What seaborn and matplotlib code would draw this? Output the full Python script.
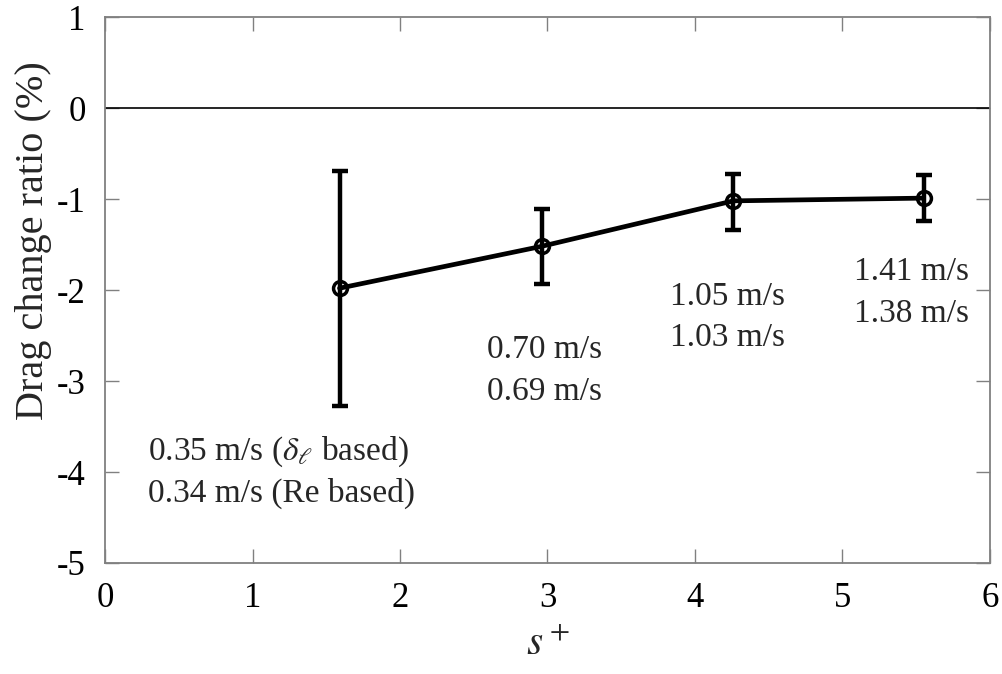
"""
Drag change ratio vs s+
"""
import matplotlib
matplotlib.use('Agg')
import matplotlib.pyplot as plt
import seaborn as sns
import pandas as pd

# datos
s_plus = [1.59, 2.96, 4.26, 5.55]
drag_ratio = [-1.98, -1.52, -1.02, -0.99]
err_low = [1.29, 0.41, 0.32, 0.25]
err_high = [1.29, 0.41, 0.30, 0.25]
labels_delta = ['0.35 m/s ($\\delta_\\ell$ based)', '0.70 m/s', '1.05 m/s', '1.41 m/s']
labels_re = ['0.34 m/s (Re based)', '0.69 m/s', '1.03 m/s', '1.38 m/s']
label_pos = [(0.29, -3.78), (2.98, -2.66), (4.22, -2.07), (5.47, -1.80)]

sns.set_style('white')
plt.rcParams['font.family'] = ['Liberation Serif', 'DejaVu Serif']
plt.rcParams['mathtext.fontset'] = 'stix'

df = pd.DataFrame({'s': s_plus, 'dr': drag_ratio})

fig = plt.figure(figsize=(10.02, 6.74), dpi=100)
ax = fig.add_axes([0.1048, 0.1647, 0.8832, 0.81])

ax.axhline(0, color='black', lw=1.2, zorder=1)
ax.errorbar(s_plus, drag_ratio, yerr=[err_low, err_high], fmt='none',
            ecolor='black', elinewidth=3.2, capsize=6, capthick=3.2, zorder=2)
sns.lineplot(data=df, x='s', y='dr', ax=ax, color='black', lw=3.4,
             marker='o', markersize=10, markerfacecolor='none',
             markeredgecolor='black', markeredgewidth=2.5, zorder=3)

for (x, y), t1, t2 in zip(label_pos, labels_delta, labels_re):
    ha = 'left' if x < 1 else 'center'
    ax.text(x, y, t1, ha=ha, va='center', fontsize=24)
    ax.text(x, y - 0.46, t2, ha=ha, va='center', fontsize=24)

ax.set_xlim(0, 6)
ax.set_ylim(-5, 1)
ax.set_xticks(range(0, 7))
ax.set_yticks(range(-5, 2))
ax.set_yticklabels([str(v) for v in range(-5, 2)])
ax.tick_params(direction='in', length=10, width=1, colors='#808080',
               labelcolor='black', labelsize=25, pad=14,
               top=True, right=True, bottom=True, left=True)
for sp in ax.spines.values():
    sp.set_color('#808080')
    sp.set_linewidth(1.3)
    sp.set_visible(True)

ax.set_xlabel('$s^+$', fontsize=30)
ax.xaxis.set_label_coords(0.5, -0.115)
ax.set_ylabel('Drag change ratio (%)', fontsize=29)
ax.yaxis.set_label_coords(-0.06, 0.59)

fig.savefig('out.png', dpi=100)
